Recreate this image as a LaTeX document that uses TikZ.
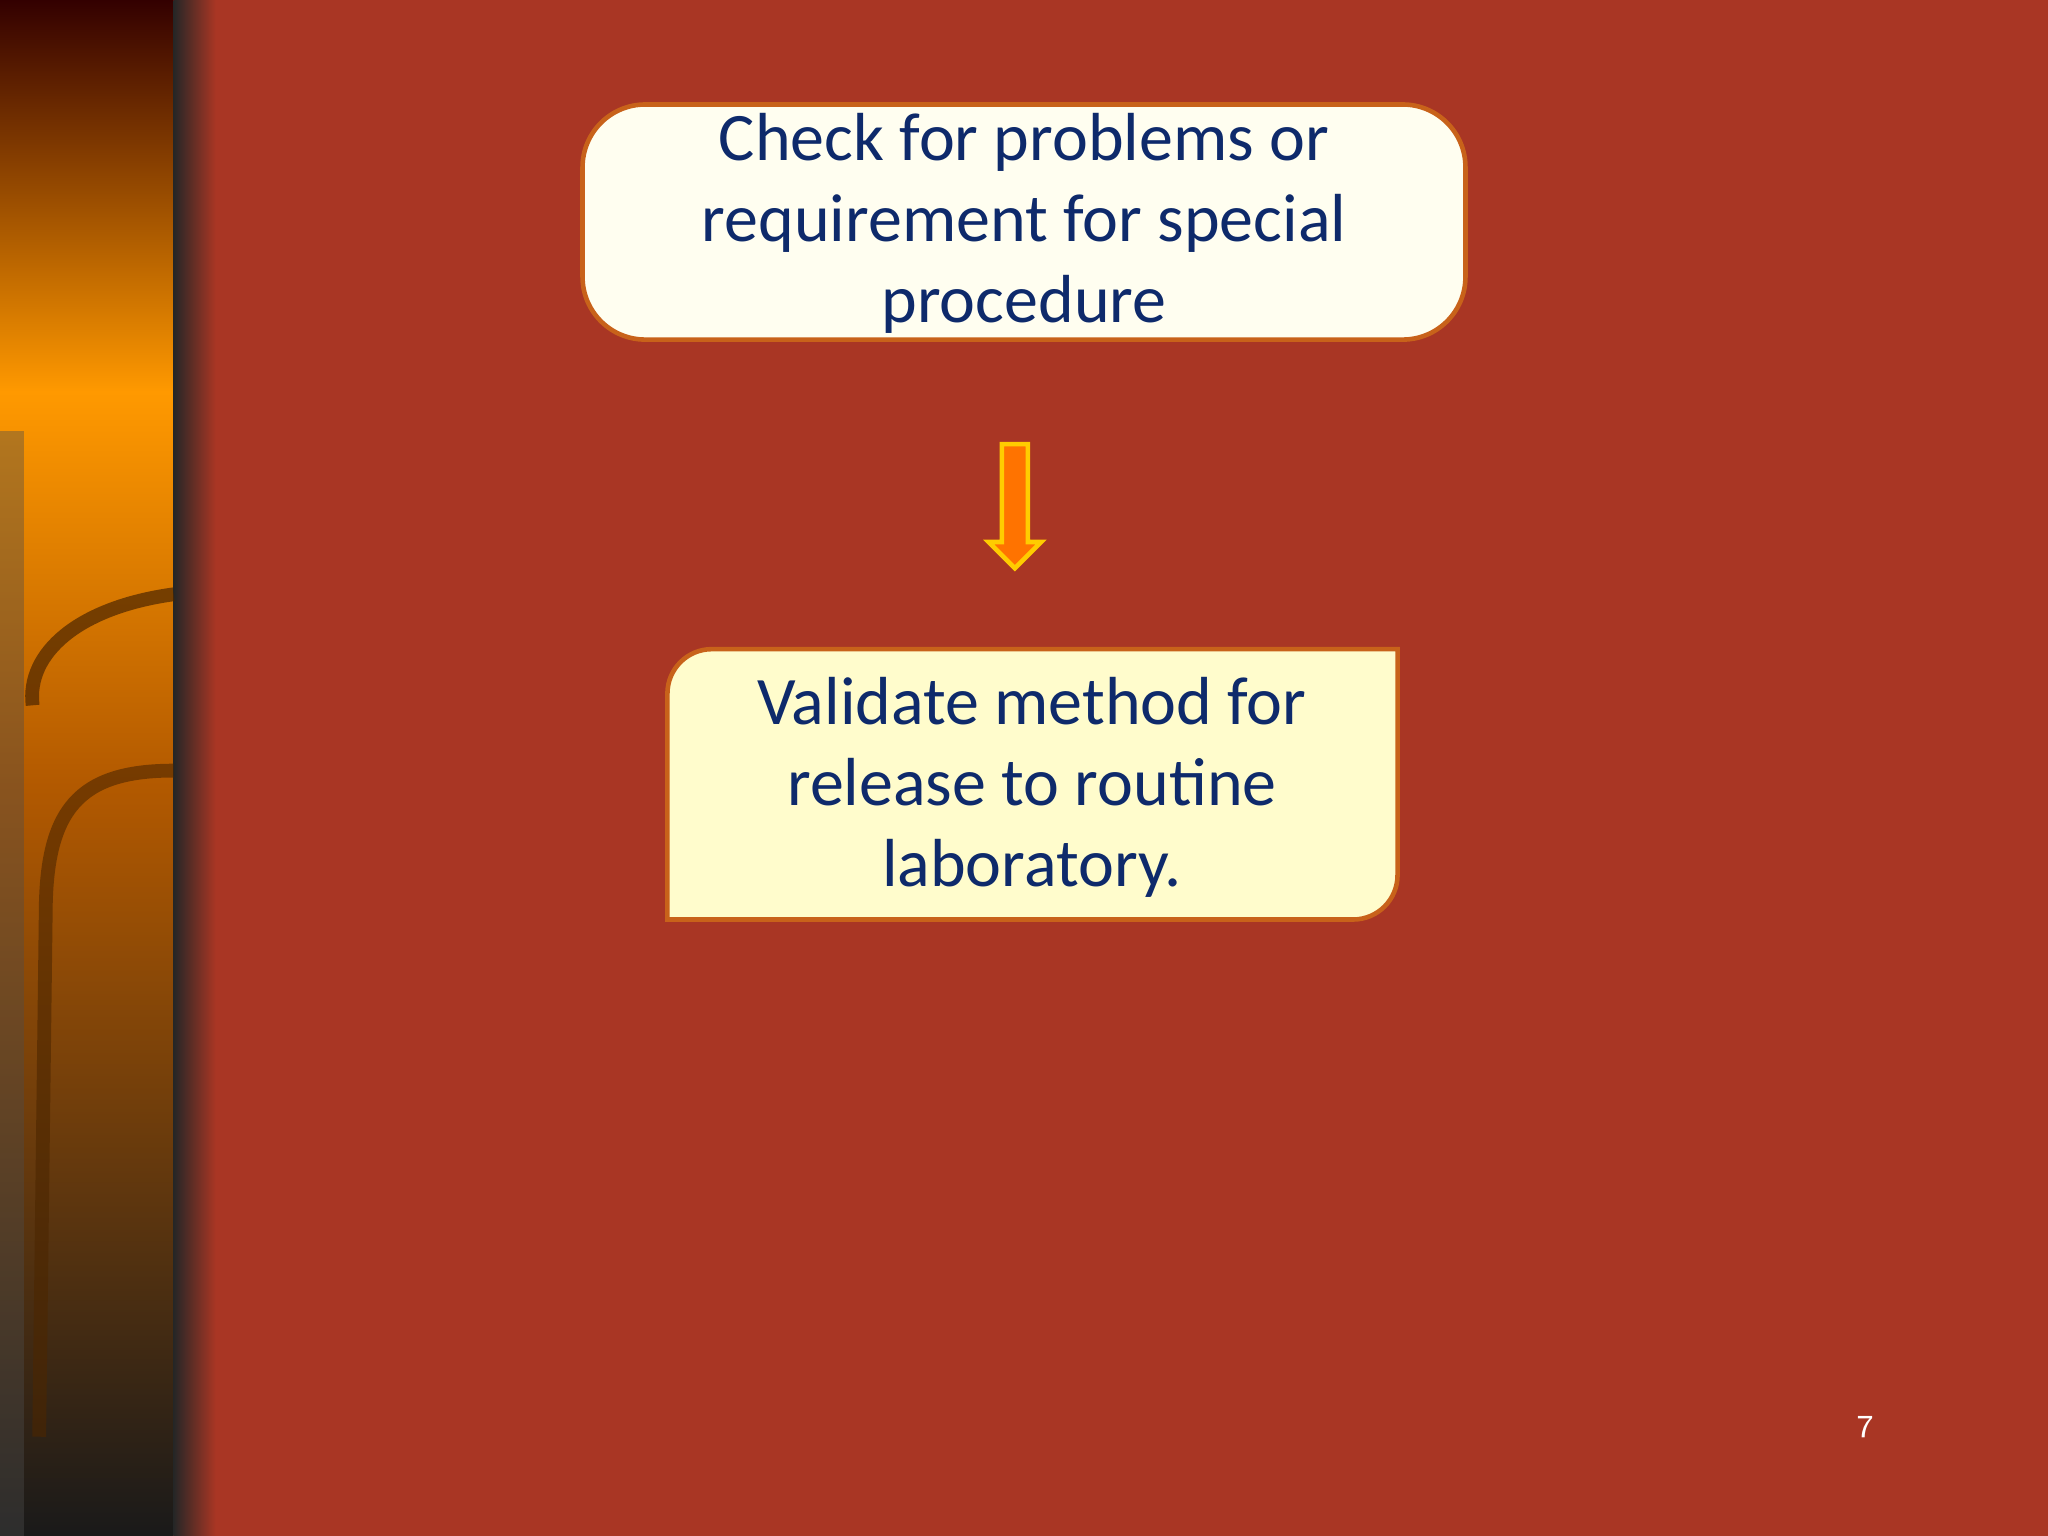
\documentclass[tikz,border=0pt]{standalone}
\usepackage{fontspec}
\setmainfont{Carlito}
\begin{document}
\begin{tikzpicture}[x=0.01cm,y=-0.01cm,
  boxtext/.style={text=navy, font=\fontsize{14.8}{17.6}\selectfont, align=center}]
\definecolor{navy}{HTML}{0E2A6B}
\definecolor{bg}{HTML}{A93624}
\definecolor{edge}{HTML}{C8621A}
\useasboundingbox (0,0) rectangle (1568,1176);
\fill[bg] (0,0) rectangle (1568,1176);
% left photo strip
\shade[top color=black!80!red, bottom color=orange!70!black, middle color=orange!80!yellow] (0,0) rectangle (133,600);
\shade[top color=orange!70!black, bottom color=black!90] (0,600) rectangle (133,1176);
\shade[left color=black!85, right color=bg] (133,0) rectangle (165,1176);
\draw[black!70!orange, line width=3, opacity=0.7] (133,455) .. controls (60,465) and (20,500) .. (25,540);
\draw[black!70!orange, line width=3, opacity=0.6] (133,590) .. controls (60,590) and (35,620) .. (35,700) -- (30,1100);
\fill[black!70, opacity=0.4] (0,330) rectangle (18,1176);
% top box
\draw[edge, line width=1, fill=white!94!yellow, rounded corners=0.48cm] (446,80) rectangle (1122,260);
\node[boxtext] (top) at (784,171) {Check for problems or\\requirement for special\\procedure};
% bottom box
\draw[edge, line width=1, fill=yellow!20] (545,497) -- (1070,497) -- (1070,670) arc (0:90:34) -- (511,704) -- (511,531) arc (180:270:34) -- cycle;
\node[boxtext] (bot) at (790,603) {Validate method for\\release to routine\\laboratory.};
% block arrow
\draw[orange!40!yellow, line width=1, fill=orange!90!red] (767,340) -- (787,340) -- (787,415) -- (797,415) -- (777,435) -- (757,415) -- (767,415) -- cycle;
\node[text=white, font=\fontfamily{lmss}\selectfont\scriptsize] (pg) at (1428,1093) {7};
\end{tikzpicture}
\end{document}
